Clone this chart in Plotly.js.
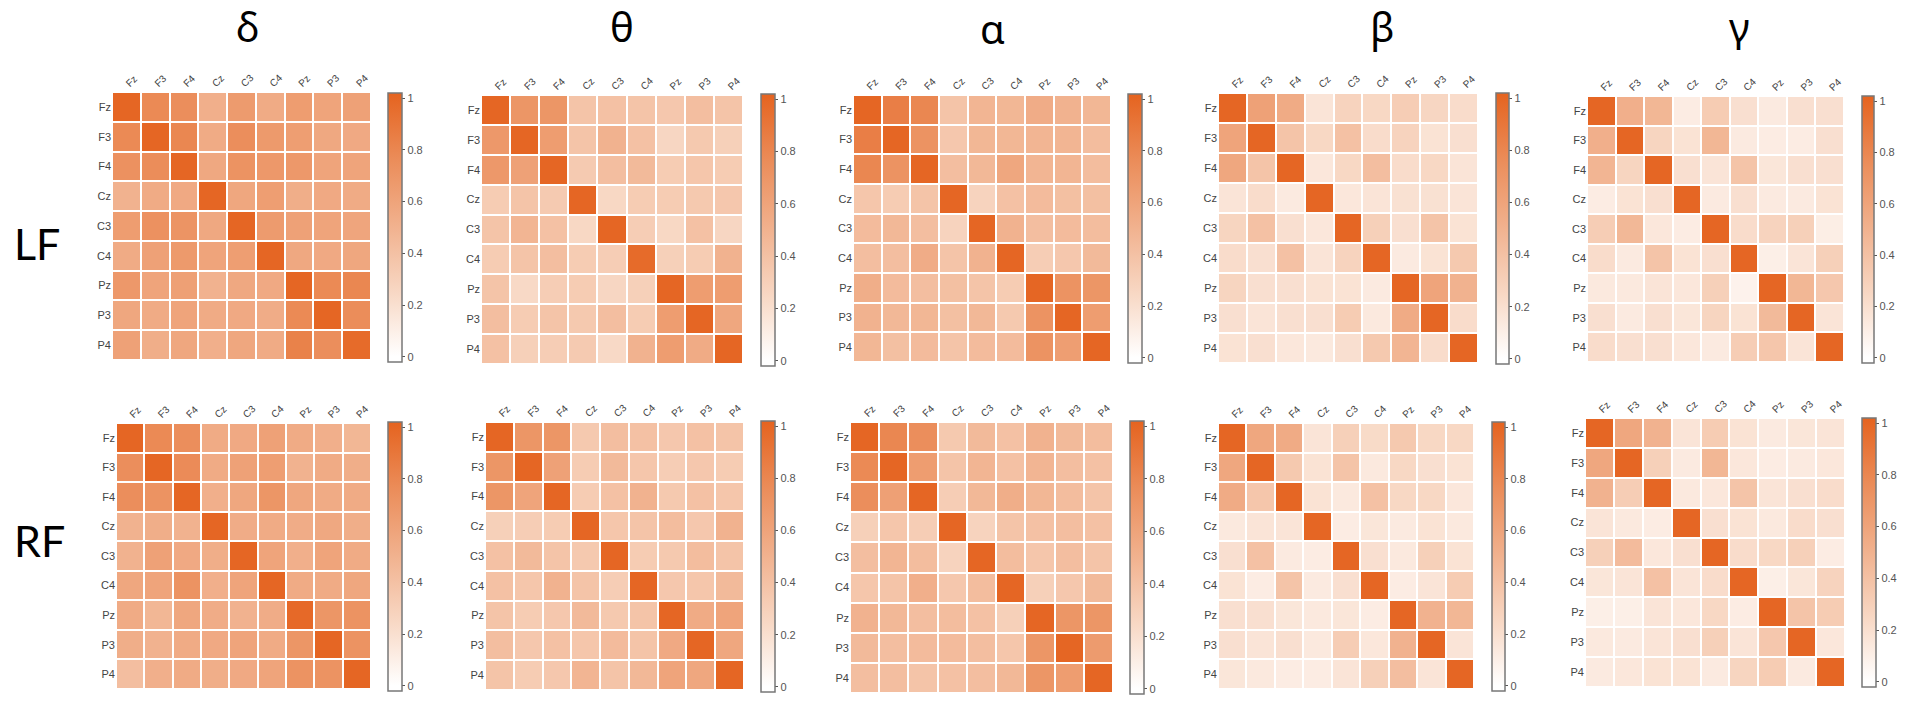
<!DOCTYPE html>
<html>
<head>
<meta charset="utf-8">
<script src="https://cdn.plot.ly/plotly-3.0.1.min.js"></script>
<style>html,body{margin:0;padding:0;background:#fff}#chart{width:1906px;height:711px}</style>
</head>
<body>
<div id="chart"></div>
<script>
const channels = ["Fz","F3","F4","Cz","C3","C4","Pz","P3","P4"];
const bands = ["δ","θ","α","β","γ"];
const groups = ["LF","RF"];
const colorbarTicks = [0,0.2,0.4,0.6,0.8,1];

const deltaLF = [
[1,.78,.75,.52,.66,.55,.65,.6,.62],
[.78,1,.8,.55,.75,.67,.64,.57,.56],
[.73,.76,1,.57,.72,.68,.68,.6,.6],
[.5,.55,.56,1,.58,.64,.53,.56,.55],
[.65,.73,.71,.57,1,.66,.62,.6,.59],
[.55,.62,.67,.6,.64,1,.57,.56,.58],
[.68,.6,.63,.5,.57,.56,1,.78,.8],
[.58,.55,.6,.55,.56,.54,.78,1,.76],
[.62,.53,.58,.52,.58,.55,.83,.75,.97]];
const thetaLF = [
[1,.7,.7,.38,.4,.38,.36,.42,.38],
[.68,1,.65,.38,.5,.4,.26,.35,.3],
[.68,.62,1,.34,.42,.45,.33,.37,.33],
[.33,.38,.34,1,.25,.33,.33,.35,.36],
[.38,.48,.4,.25,1,.32,.25,.4,.26],
[.33,.38,.42,.33,.32,.97,.3,.33,.5],
[.38,.24,.32,.33,.26,.3,1,.65,.65],
[.42,.33,.38,.35,.42,.33,.65,1,.58],
[.4,.3,.32,.34,.24,.5,.65,.55,1]];
const alphaLF = [
[1,.85,.8,.38,.48,.47,.54,.5,.47],
[.85,1,.72,.36,.47,.47,.48,.48,.43],
[.8,.72,1,.42,.46,.58,.48,.48,.43],
[.37,.33,.38,1,.28,.4,.44,.41,.41],
[.44,.46,.42,.28,1,.5,.42,.44,.43],
[.42,.42,.54,.38,.5,1,.32,.36,.45],
[.53,.44,.42,.41,.38,.33,1,.72,.7],
[.5,.46,.47,.41,.46,.35,.72,1,.65],
[.47,.41,.44,.38,.44,.44,.72,.64,1]];
const betaLF = [
[1,.62,.55,.17,.28,.25,.32,.26,.22],
[.6,1,.38,.25,.4,.22,.28,.18,.2],
[.58,.38,1,.15,.25,.42,.22,.25,.17],
[.17,.22,.13,1,.15,.17,.19,.19,.17],
[.27,.4,.2,.15,1,.3,.2,.38,.18],
[.22,.2,.4,.17,.28,1,.13,.18,.35],
[.27,.2,.2,.18,.18,.13,1,.6,.5],
[.2,.17,.2,.2,.33,.14,.55,1,.22],
[.18,.2,.15,.14,.2,.35,.48,.22,1]];
const gammaLF = [
[1,.52,.47,.12,.33,.2,.13,.2,.2],
[.52,1,.27,.18,.47,.13,.12,.12,.2],
[.48,.27,1,.2,.17,.38,.16,.2,.2],
[.12,.18,.2,1,.13,.2,.13,.13,.18],
[.32,.46,.15,.12,1,.22,.28,.3,.11],
[.22,.13,.38,.18,.2,1,.1,.17,.3],
[.14,.14,.17,.15,.3,.08,1,.47,.36],
[.2,.13,.2,.16,.27,.18,.45,1,.17],
[.22,.2,.2,.15,.13,.32,.37,.17,1]];
const deltaRF = [
[1,.78,.75,.55,.56,.62,.55,.52,.47],
[.75,1,.77,.55,.62,.64,.5,.55,.53],
[.75,.72,1,.52,.58,.7,.58,.55,.55],
[.5,.53,.5,1,.54,.55,.54,.57,.53],
[.5,.62,.56,.53,1,.6,.52,.6,.55],
[.58,.6,.72,.52,.6,1,.55,.55,.58],
[.55,.47,.58,.54,.5,.54,.98,.7,.72],
[.53,.5,.55,.56,.6,.55,.7,1,.72],
[.42,.52,.55,.53,.56,.6,.72,.72,1]];
const thetaRF = [
[1,.7,.7,.35,.42,.4,.36,.4,.38],
[.7,1,.62,.33,.45,.37,.32,.36,.33],
[.7,.6,1,.33,.4,.5,.35,.4,.37],
[.3,.32,.33,1,.37,.38,.43,.36,.5],
[.4,.45,.38,.35,1,.33,.35,.43,.38],
[.4,.37,.5,.38,.32,1,.36,.37,.45],
[.38,.33,.36,.45,.35,.38,1,.55,.6],
[.42,.36,.4,.37,.44,.38,.56,1,.58],
[.38,.33,.36,.48,.38,.46,.6,.58,1]];
const alphaRF = [
[1,.8,.75,.35,.45,.4,.5,.45,.43],
[.78,1,.65,.38,.48,.4,.48,.42,.4],
[.75,.63,1,.32,.46,.53,.47,.43,.38],
[.3,.37,.32,1,.28,.38,.4,.42,.4],
[.42,.48,.43,.28,1,.43,.37,.42,.38],
[.37,.38,.52,.36,.43,1,.3,.36,.45],
[.5,.46,.42,.43,.4,.3,1,.7,.7],
[.45,.42,.44,.44,.42,.37,.7,1,.66],
[.42,.42,.38,.4,.42,.46,.7,.65,1]];
const betaRF = [
[1,.58,.55,.17,.3,.23,.35,.25,.25],
[.58,1,.35,.18,.38,.14,.25,.2,.18],
[.55,.37,1,.18,.14,.4,.25,.25,.15],
[.14,.17,.17,1,.12,.16,.13,.18,.14],
[.2,.4,.13,.12,1,.2,.14,.3,.18],
[.18,.12,.38,.13,.2,1,.12,.17,.33],
[.2,.2,.16,.14,.16,.12,1,.5,.47],
[.2,.17,.2,.14,.32,.15,.5,1,.17],
[.16,.14,.12,.12,.17,.3,.42,.17,1]];
const gammaRF = [
[1,.58,.5,.17,.33,.18,.13,.16,.17],
[.58,1,.3,.13,.47,.15,.12,.13,.15],
[.5,.32,1,.14,.15,.38,.17,.2,.22],
[.17,.14,.12,1,.2,.18,.14,.22,.2],
[.3,.44,.15,.2,1,.22,.25,.3,.12],
[.16,.17,.4,.17,.22,1,.1,.16,.28],
[.1,.1,.17,.15,.25,.12,1,.38,.33],
[.14,.13,.17,.2,.3,.17,.36,1,.15],
[.13,.15,.18,.18,.13,.27,.33,.13,1]];

const W = 1906, H = 711;
// Pixel frames: [x0,x1,y0,y1] for cells, [x0,x1,y0,y1] for colorbar
const panels = [
 {z:deltaLF, c:[112,371,92,360], b:[388,402,93,362]},
 {z:thetaLF, c:[481,743,95,364], b:[761,775,94,366]},
 {z:alphaLF, c:[853,1111,95,362], b:[1128,1142,94,363]},
 {z:betaLF,  c:[1218,1478,93,363], b:[1496,1509,93,364]},
 {z:gammaLF, c:[1587,1844,96,362], b:[1862,1874,96,363]},
 {z:deltaRF, c:[116,371,423,689], b:[388,402,422,691]},
 {z:thetaRF, c:[485,744,422,690], b:[761,775,421,692]},
 {z:alphaRF, c:[850,1113,422,693], b:[1130,1144,421,694]},
 {z:betaRF,  c:[1218,1474,423,689], b:[1492,1505,422,691]},
 {z:gammaRF, c:[1585,1845,418,687], b:[1862,1876,418,687]}
];
const bandLabelPos = [[248,27],[622,27],[992,28],[1382,27],[1739,27]];
const groupLabelPos = [[37,243],[39,540]];

const layout = {width:W, height:H, margin:{l:0,r:0,t:0,b:0}, paper_bgcolor:"#fff", plot_bgcolor:"#fff", annotations:[], showlegend:false};
const data = panels.map((p,i)=>{
  const n = i+1;
  const xa = "xaxis"+n, ya = "yaxis"+n;
  layout[xa] = {domain:[p.c[0]/W,p.c[1]/W], anchor:"y"+n, side:"top", type:"category", tickangle:-45, ticks:"", ticklen:0,
    showgrid:false, zeroline:false, showline:false, automargin:false, tickfont:{family:"Liberation Sans",size:10,color:"#444"}};
  layout[ya] = {domain:[1-p.c[3]/H,1-p.c[2]/H], anchor:"x"+n, type:"category", autorange:"reversed", ticks:"", ticklen:0,
    showgrid:false, zeroline:false, showline:false, automargin:false, tickfont:{family:"Liberation Sans",size:11,color:"#444"}};
  return {
    type:"heatmap", z:p.z, x:channels, y:channels, xaxis:"x"+n, yaxis:"y"+n,
    zmin:-0.02, zmax:1.02, xgap:2, ygap:2, hoverinfo:"skip",
    colorscale:[[0,"#ffffff"],[0.02,"#ffffff"],[0.25,"#f8d9c6"],[0.5,"#f1b28f"],[0.75,"#eb8d5a"],[1,"#e5631f"]],
    colorbar:{x:p.b[0]/W, xanchor:"left", xpad:0, y:1-p.b[3]/H, yanchor:"bottom", ypad:0,
      thickness:p.b[1]-p.b[0], thicknessmode:"pixels", len:(p.b[3]-p.b[2])/H, lenmode:"fraction",
      outlinecolor:"#777", outlinewidth:1.5, tickmode:"array", tickvals:colorbarTicks, ticktext:colorbarTicks.map(String),
      ticks:"outside", ticklen:3, tickcolor:"#555", tickwidth:1, tickfont:{family:"Liberation Sans",size:11,color:"#555"}}
  };
});
bands.forEach((t,i)=>layout.annotations.push({text:t, xref:"paper", yref:"paper", x:bandLabelPos[i][0]/W, y:1-bandLabelPos[i][1]/H,
  xanchor:"center", yanchor:"middle", showarrow:false, font:{family:"Noto Sans",size:40,color:"#000"}}));
groups.forEach((t,i)=>layout.annotations.push({text:t, xref:"paper", yref:"paper", x:groupLabelPos[i][0]/W, y:1-groupLabelPos[i][1]/H,
  xanchor:"center", yanchor:"middle", showarrow:false, font:{family:"Lato",size:43,color:"#000"}}));
Plotly.newPlot("chart", data, layout, {displayModeBar:false, staticPlot:true});
</script>
</body>
</html>
